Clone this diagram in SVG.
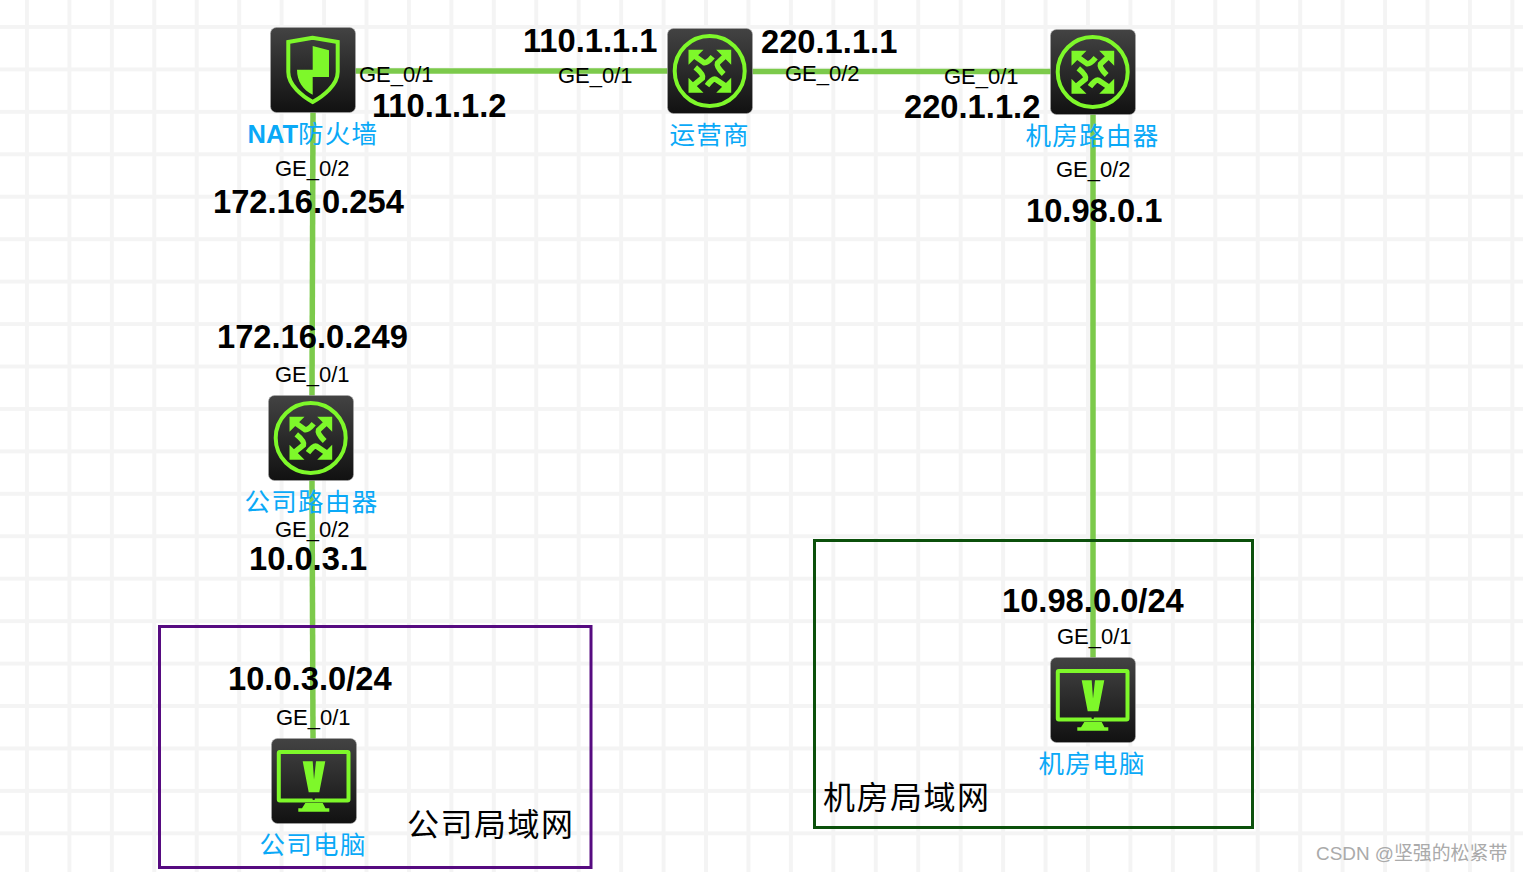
<svg xmlns="http://www.w3.org/2000/svg" width="1523" height="872" viewBox="0 0 1523 872">
<style>
.ge{font:22px "Liberation Sans",sans-serif;fill:#000}
.ip{font:bold 32.700px "Liberation Sans",sans-serif;fill:#000}
.nm{font:25.500px "Noto Sans CJK SC","Liberation Sans",sans-serif;fill:#0aa9f7;letter-spacing:1.3px}
.zn{font:32px "Noto Sans CJK SC",sans-serif;fill:#000;letter-spacing:1.5px}
.wire{stroke:#7cca4b;stroke-width:5.500;fill:none}
.ic{fill:none;stroke:#7ef82a;stroke-width:4}
.f{fill:#7ef82a}
.t{fill:none;stroke:#7ef82a;stroke-width:5.500}
</style>
<defs>
<pattern id="grid" x="25" y="25" width="42.44" height="42.44" patternUnits="userSpaceOnUse">
<path d="M0 0H4V42.44H0ZM4 0H42.44V4H4Z" fill="#f4f4f4"/>
</pattern>
<linearGradient id="bg" x1="0" y1="0" x2="0" y2="1"><stop offset="0" stop-color="#434343"/><stop offset="1" stop-color="#111"/></linearGradient>
<g id="router">
<rect x="0" y="0" width="85" height="85" rx="6" fill="url(#bg)" stroke="#aaa" stroke-width="0.6"/>
<circle cx="42.2" cy="42.5" r="35" class="ic"/>
<path class="f" d="M21 21.300H36L21 36.300ZM63.700 21.300V36.300L48.700 21.300ZM63.700 64.200H48.700L63.700 49.200ZM21 64.200V49.200L36 64.200Z"/>
<path class="t" d="M26.800 27.200L36.200 34Q39 35.500 45.200 28.200M57.800 27.200L50 34.500Q48.500 38 56.200 45.500M57.800 57.200L48 50.800Q45 49.500 39.500 57.200M26.800 56.200L35 49.500Q36.500 46 27.800 38.800"/>
</g>
<g id="pc">
<rect x="0" y="0" width="85" height="85" rx="6" fill="url(#bg)" stroke="#aaa" stroke-width="0.6"/>
<rect x="7.300" y="13.600" width="69.700" height="48.500" rx="1" class="ic"/>
<path class="f" d="M31.200 22.800H41.200L42.500 41L44.500 22.800H53.800L47.800 53.800H37.200Z"/>
<circle cx="42.200" cy="60.200" r="1.300" fill="#222"/>
<path class="f" d="M33.800 64.500H51.200L54 69.800H57.800V73.200H26.800V69.800H30.500Z"/>
</g>
</defs>
<rect width="1523" height="872" fill="#fff"/>
<rect width="1523" height="872" fill="url(#grid)"/>

<g id="connectors">
<path class="wire" d="M355 71H668"/>
<path class="wire" d="M752 71.500H1051"/>
<path class="wire" d="M313 112L312 396"/>
<path class="wire" d="M1093 114V658"/>
<path class="wire" d="M312 480L313 739"/>
</g>

<g id="zone-company">
<rect x="159.500" y="626.500" width="431.500" height="241" fill="none" stroke="#560b80" stroke-width="3"/>
<text class="zn" x="407" y="836">公司局域网</text>
</g>
<g id="zone-room">
<rect x="814.500" y="540.500" width="438" height="287" fill="none" stroke="#0b500b" stroke-width="3"/>
<text class="zn" x="823" y="809">机房局域网</text>
</g>

<g id="firewall">
<rect x="270.500" y="27.500" width="85" height="85" rx="6" fill="url(#bg)" stroke="#aaa" stroke-width="0.6"/>
<path d="M312.700 37.700L288.300 42V72C288.300 85 302 96 312.700 102C323.400 96 337.700 85 337.700 72V42Z" class="ic" stroke-width="4.300"/>
<path class="f" d="M312.700 46L329 50.300V77H312.700ZM297 69.700H312.700V94.700C303 90 297 81 297 69.700Z"/>
<text class="nm" x="247.500" y="143"><tspan font-weight="bold" font-family="Liberation Sans" letter-spacing="0">NAT</tspan>防火墙</text>
</g>
<g id="isp">
<use href="#router" x="667.500" y="28.500"/>
<text class="nm" x="669.500" y="144">运营商</text>
</g>
<g id="room-router">
<use href="#router" x="1050.500" y="29.500"/>
<text class="nm" x="1025.500" y="145">机房路由器</text>
</g>
<g id="company-router">
<use href="#router" x="268.500" y="395.500"/>
<text class="nm" x="244.500" y="511">公司路由器</text>
</g>
<g id="company-pc">
<use href="#pc" x="271.500" y="738.500"/>
<text class="nm" x="259.500" y="854">公司电脑</text>
</g>
<g id="room-pc">
<use href="#pc" x="1050.500" y="657.500"/>
<text class="nm" x="1038.500" y="773">机房电脑</text>
</g>

<g id="labels">
<text class="ge" x="359" y="81.500">GE_0/1</text>
<text class="ge" x="558" y="82.500">GE_0/1</text>
<text class="ge" x="785" y="80.500">GE_0/2</text>
<text class="ge" x="944" y="83.500">GE_0/1</text>
<text class="ge" x="275" y="175.500">GE_0/2</text>
<text class="ge" x="1056" y="176.500">GE_0/2</text>
<text class="ge" x="275" y="381.500">GE_0/1</text>
<text class="ge" x="275" y="536.500">GE_0/2</text>
<text class="ge" x="276" y="724.500">GE_0/1</text>
<text class="ge" x="1057" y="643.500">GE_0/1</text>
<text class="ip" x="523" y="52">110.1.1.1</text>
<text class="ip" x="372" y="117">110.1.1.2</text>
<text class="ip" x="761" y="53">220.1.1.1</text>
<text class="ip" x="904" y="118">220.1.1.2</text>
<text class="ip" x="213" y="213">172.16.0.254</text>
<text class="ip" x="217" y="348">172.16.0.249</text>
<text class="ip" x="1026" y="222">10.98.0.1</text>
<text class="ip" x="249" y="570">10.0.3.1</text>
<text class="ip" x="228" y="690">10.0.3.0/24</text>
<text class="ip" x="1002" y="612">10.98.0.0/24</text>
</g>
<text x="1316" y="860" font-family="Liberation Sans,Noto Sans CJK SC,sans-serif" font-size="18.900" fill="#aaa">CSDN @坚强的松紧带</text>
</svg>
